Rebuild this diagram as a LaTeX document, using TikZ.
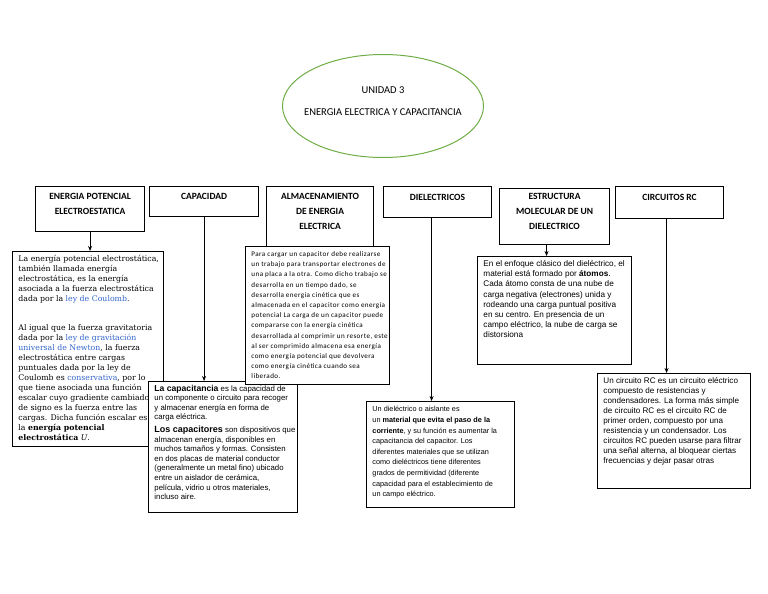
\documentclass[tikz,border=0pt]{standalone}
\usepackage{fontspec}
\usepackage{tikz}
\usetikzlibrary{shapes.geometric,arrows.meta}
\newfontfamily\hdfont{Carlito}
\newfontfamily\almfont[LetterSpace=6]{Carlito}
\newfontfamily\serfont{DejaVu Serif}
\newfontfamily\arfont{Liberation Sans}
\definecolor{linkblue}{HTML}{3366CC}
\definecolor{ovalgreen}{HTML}{70AD47}
\tikzset{
  head/.style={draw, line width=1.1pt, anchor=north west, align=center, inner sep=2pt, text depth=10pt,
    font=\hdfont\bfseries\fontsize{9.5}{15}\selectfont},
  txtbox/.style={draw, line width=0.9pt, fill=white, anchor=north west, inner xsep=6pt, inner ysep=3pt},
  link/.style={-{Stealth[length=5pt,width=4pt]}, line width=0.9pt}
}
\begin{document}
\begin{tikzpicture}[x=1pt,y=-1pt]
\useasboundingbox (0,0) rectangle (768,594);
% title
\node [ellipse, draw=ovalgreen, line width=1pt, minimum width=201pt, minimum height=103pt] (unidad) at (383,106) {};
\node [align=center, text depth=10pt, font=\hdfont\fontsize{10.5}{22}\selectfont] (unidadtxt) at (unidad.center)
  {UNIDAD 3\\ENERGIA ELECTRICA Y CAPACITANCIA};
% headers
\node [head, minimum width=109pt, minimum height=45pt] (ephead) at (35,186) {ENERGIA POTENCIAL\\ELECTROESTATICA};
\node [head, minimum width=109pt, minimum height=30pt] (caphead) at (149,186) {CAPACIDAD};
\node [head, minimum width=107pt, minimum height=60pt] (almhead) at (266,186) {ALMACENAMIENTO\\DE ENERGIA\\ELECTRICA};
\node [head, minimum width=108pt, minimum height=31pt] (diehead) at (383,186) {DIELECTRICOS};
\node [head, minimum width=110pt, minimum height=56pt] (esthead) at (499,188) {ESTRUCTURA\\MOLECULAR DE UN\\DIELECTRICO};
\node [head, minimum width=108pt, minimum height=32pt] (rchead) at (615,186) {CIRCUITOS RC};
% text boxes (one tabular row per printed line)
\node [txtbox] (eptext) at (12,251) {\parbox[c][189pt][t]{139pt}{\serfont\fontsize{7.8}{10}\selectfont
\begin{tabular}[t]{@{}l@{}}
La energía potencial electrostática,\\
también llamada energía\\
electrostática, es la energía\\
asociada a la fuerza electrostática\\
dada por la \textcolor{linkblue}{ley de Coulomb}.\\[19pt]
Al igual que la fuerza gravitatoria\\
dada por la \textcolor{linkblue}{ley de gravitación}\\
\textcolor{linkblue}{universal de Newton}, la fuerza\\
electrostática entre cargas\\
puntuales dada por la ley de\\
Coulomb es \textcolor{linkblue}{conservativa}, por lo\\
que tiene asociada una función\\
escalar cuyo gradiente cambiado\\
de signo es la fuerza entre las\\
cargas. Dicha función escalar es\\
la \textbf{energía potencial}\\
\textbf{electrostática} \textit{U}.
\end{tabular}}};
\node [txtbox] (captext) at (148,381) {\parbox[c][125pt][t]{137pt}{\arfont\fontsize{7.8}{9.6}\selectfont
\begin{tabular}[t]{@{}l@{}}
{\fontsize{8.6}{9.6}\selectfont\bfseries La capacitancia} es la capacidad de\\
un componente o circuito para recoger\\
y almacenar energía en forma de\\
carga eléctrica.\\[3pt]
{\fontsize{9}{9.6}\selectfont\bfseries Los capacitores} son dispositivos que\\
almacenan energía, disponibles en\\
muchos tamaños y formas. Consisten\\
en dos placas de material conductor\\
(generalmente un metal fino) ubicado\\
entre un aislador de cerámica,\\
película, vidrio u otros materiales,\\
incluso aire.
\end{tabular}}};
\node [txtbox] (almtext) at (245,246) {\parbox[c][132pt][t]{132pt}{\almfont\fontsize{7.1}{10.2}\selectfont
\begin{tabular}[t]{@{}l@{}}
Para cargar un capacitor debe realizarse\\
un trabajo para transportar electrones de\\
una placa a la otra. Como dicho trabajo se\\
desarrolla en un tiempo dado, se\\
desarrolla energía cinética que es\\
almacenada en el capacitor como energía\\
potencial La carga de un capacitor puede\\
compararse con la energía cinética\\
desarrollada al comprimir un resorte, este\\
al ser comprimido almacena esa energía\\
como energía potencial que devolvera\\
como energía cinética cuando sea\\
liberado.
\end{tabular}}};
\node [txtbox] (dietext) at (366,401) {\parbox[c][100pt][t]{136pt}{\arfont\fontsize{7.3}{10.6}\selectfont
\begin{tabular}[t]{@{}l@{}}
Un dieléctrico o aislante es\\
un \textbf{material que evita el paso de la}\\
\textbf{corriente}, y su función es aumentar la\\
capacitancia del capacitor. Los\\
diferentes materiales que se utilizan\\
como dieléctricos tiene diferentes\\
grados de permitividad (diferente\\
capacidad para el establecimiento de\\
un campo eléctrico.
\end{tabular}}};
\node [txtbox] (esttext) at (477,256) {\parbox[c][102pt][t]{142pt}{\arfont\fontsize{8.2}{10.2}\selectfont
\begin{tabular}[t]{@{}l@{}}
En el enfoque clásico del dieléctrico, el\\
material está formado por \textbf{átomos}.\\
Cada átomo consta de una nube de\\
carga negativa (electrones) unida y\\
rodeando una carga puntual positiva\\
en su centro. En presencia de un\\
campo eléctrico, la nube de carga se\\
distorsiona
\end{tabular}}};
\node [txtbox] (rctext) at (597,373) {\parbox[c][109pt][t]{141pt}{\arfont\fontsize{8.1}{10}\selectfont
\begin{tabular}[t]{@{}l@{}}
Un circuito RC es un circuito eléctrico\\
compuesto de resistencias y\\
condensadores. La forma más simple\\
de circuito RC es el circuito RC de\\
primer orden, compuesto por una\\
resistencia y un condensador. Los\\
circuitos RC pueden usarse para filtrar\\
una señal alterna, al bloquear ciertas\\
frecuencias y dejar pasar otras
\end{tabular}}};
% connectors
\draw [link] (ephead.south) -- (ephead.south |- eptext.north);
\draw [link] (caphead.south) -- (caphead.south |- captext.north);
\draw [link] ([xshift=-6pt]diehead.south) -- ([xshift=-6pt]diehead.south |- dietext.north);
\draw [link] ([xshift=-8pt]esthead.south) -- ([xshift=-8pt]esthead.south |- esttext.north);
\draw [link] ([xshift=-3pt]rchead.south) -- ([xshift=-3pt]rchead.south |- rctext.north);
\end{tikzpicture}
\end{document}
